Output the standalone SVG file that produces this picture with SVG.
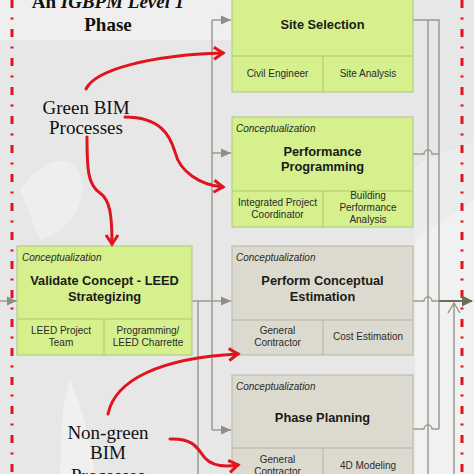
<svg xmlns="http://www.w3.org/2000/svg" width="474" height="474" viewBox="0 0 474 474">
<defs>
<marker id="ga" markerUnits="userSpaceOnUse" markerWidth="11" markerHeight="10" refX="10" refY="5" orient="auto" overflow="visible"><path d="M0,0.5 L10,5 L0,9.5 z" fill="#8e8e84"/></marker>
<marker id="da" markerUnits="userSpaceOnUse" markerWidth="12" markerHeight="12" refX="10" refY="6" orient="auto" overflow="visible"><path d="M0,0.5 L11,6 L0,11.5 z" fill="#6d6d58"/></marker>
<marker id="ua" markerUnits="userSpaceOnUse" markerWidth="12" markerHeight="12" refX="10" refY="6" orient="auto" overflow="visible"><path d="M0,0 L10,6 L0,12" fill="none" stroke="#8e8e84" stroke-width="1.3"/></marker>
<marker id="ra" markerUnits="userSpaceOnUse" markerWidth="12" markerHeight="12" refX="9" refY="6" orient="auto" overflow="visible"><path d="M0,0 L9,6 L0,12" fill="none" stroke="#e0141e" stroke-width="3" stroke-linejoin="miter"/></marker>
</defs>
<style>
.g{fill:#d5f08c;stroke:#adc57a;stroke-width:1}
.k{fill:#dcdacf;stroke:#b6b4a8;stroke-width:1}
.dv{stroke:#adc57a;stroke-width:1;fill:none}
.dk{stroke:#b6b4a8;stroke-width:1;fill:none}
.t{font-family:"Liberation Sans",Arial,sans-serif;font-weight:bold;font-size:12.8px;fill:#1a1a1a;text-anchor:middle}
.s{font-family:"Liberation Sans",Arial,sans-serif;font-size:10px;fill:#2a2a2a;text-anchor:middle}
.c{font-family:"Liberation Sans",Arial,sans-serif;font-size:10px;font-style:italic;fill:#2a2a2a}
.sf{font-family:"Liberation Serif","Times New Roman",serif;font-size:19px;fill:#111;text-anchor:middle}
.ln{fill:none;stroke:#9c9b90;stroke-width:1.5}
.rd{fill:none;stroke:#e0141e;stroke-width:3;stroke-linecap:round}
.dd{fill:none;stroke:#e0141e;stroke-width:3;stroke-dasharray:8 9.5 2 9.5}
</style>
<rect x="0" y="0" width="474" height="474" fill="#e7e7e7"/>
<rect x="0" y="0" width="232" height="40" fill="#efefef"/>
<path d="M20 190 C40 160 70 150 80 175 C90 200 70 230 40 240 Z" fill="#eeeeee"/>
<path d="M70 380 C80 400 90 440 95 474 L60 474 C62 440 60 410 70 380 Z" fill="#f0f0f0"/>
<path d="M415 240 L474 200 L474 474 L415 474 Z" fill="#f1f1f1"/>
<path d="M410 170 C440 150 460 150 474 140 L474 200 L415 240 Z" fill="#ececec"/>

<g id="red-boundary">
<line class="dd" x1="12" y1="0" x2="12" y2="474"/>
<line class="dd" x1="462" y1="0" x2="462" y2="474"/>
</g>

<g id="connectors">
<line class="ln" x1="0" y1="301" x2="17" y2="301" marker-end="url(#ga)"/>
<path class="ln" d="M212 20 V430"/>
<line class="ln" x1="212" y1="20" x2="231" y2="20" marker-end="url(#ga)"/>
<line class="ln" x1="212" y1="153" x2="231" y2="153" marker-end="url(#ga)"/>
<line class="ln" x1="212" y1="430" x2="231" y2="430" marker-end="url(#ga)"/>
<line class="ln" x1="192" y1="301" x2="231" y2="301" marker-end="url(#ga)"/>
<path class="ln" d="M198 301 V474"/>
<path class="ln" d="M413 20 H439 V429"/>
<path class="ln" d="M428 20 V474"/>
<path class="ln" d="M413 154 H424 A4 4 0 0 1 432 154 H439"/>
<path class="ln" d="M413 301 H424 A4 4 0 0 1 432 301 H439"/>
<path class="ln" d="M413 429 H424 A4 4 0 0 1 432 429 H439"/>
<line x1="439" y1="301" x2="472" y2="301" stroke="#6d6d58" stroke-width="1.8" marker-end="url(#da)"/>
<line x1="454" y1="474" x2="454" y2="303" stroke="#8e8e84" stroke-width="1.3" marker-end="url(#ua)"/>
</g>

<g id="site-selection">
<rect class="g" x="232" y="-5" width="181" height="97"/>
<path class="dv" d="M232 56 H413 M323 56 V92"/>
<text class="t" x="322.5" y="29">Site Selection</text>
<text class="s" x="277.5" y="77">Civil Engineer</text>
<text class="s" x="368" y="77">Site Analysis</text>
</g>

<g id="performance-programming">
<rect class="g" x="232" y="117" width="181" height="110"/>
<path class="dv" d="M232 191 H413 M323 191 V227"/>
<text class="c" x="236" y="132">Conceptualization</text>
<text class="t" x="322.5" y="156">Performance</text>
<text class="t" x="322.5" y="171">Programming</text>
<text class="s" x="277.5" y="206">Integrated Project</text>
<text class="s" x="277.5" y="218">Coordinator</text>
<text class="s" x="368" y="199">Building</text>
<text class="s" x="368" y="211">Performance</text>
<text class="s" x="368" y="223">Analysis</text>
</g>

<g id="validate-concept">
<rect class="g" x="17" y="246" width="175" height="109"/>
<path class="dv" d="M17 319 H192 M104 319 V355"/>
<text class="c" x="22" y="261">Conceptualization</text>
<text class="t" x="104.5" y="285">Validate Concept - LEED</text>
<text class="t" x="104.5" y="301">Strategizing</text>
<text class="s" x="61" y="334">LEED Project</text>
<text class="s" x="61" y="346">Team</text>
<text class="s" x="148" y="334">Programming/</text>
<text class="s" x="148" y="346">LEED Charrette</text>
</g>

<g id="perform-conceptual-estimation">
<rect class="k" x="232" y="246" width="181" height="109"/>
<path class="dk" d="M232 320 H413 M323 320 V355"/>
<text class="c" x="236" y="261">Conceptualization</text>
<text class="t" x="322.5" y="285">Perform Conceptual</text>
<text class="t" x="322.5" y="301">Estimation</text>
<text class="s" x="277.5" y="334">General</text>
<text class="s" x="277.5" y="346">Contractor</text>
<text class="s" x="368" y="340">Cost Estimation</text>
</g>

<g id="phase-planning">
<rect class="k" x="232" y="375" width="181" height="110"/>
<path class="dk" d="M232 448 H413 M323 448 V485"/>
<text class="c" x="236" y="390">Conceptualization</text>
<text class="t" x="322.5" y="422">Phase Planning</text>
<text class="s" x="277.5" y="463">General</text>
<text class="s" x="277.5" y="475">Contractor</text>
<text class="s" x="368" y="469">4D Modeling</text>
</g>

<g id="title">
<text class="sf" x="108" y="8" font-weight="bold">An <tspan font-style="italic">IGBPM Level 1</tspan></text>
<text class="sf" x="108" y="31" font-weight="bold">Phase</text>
</g>

<g id="green-bim">
<text class="sf" x="86" y="114">Green BIM</text>
<text class="sf" x="86" y="134">Processes</text>
<path class="rd" d="M86 89 C95 70 150 55 223 53" marker-end="url(#ra)"/>
<path class="rd" d="M125 117 C160 117 170 135 175 152 C180 172 200 185 223 187" marker-end="url(#ra)"/>
<path class="rd" d="M87 137 C87 170 88 185 100 193 C110 200 112 215 112 244" marker-end="url(#ra)"/>
</g>

<g id="non-green-bim">
<text class="sf" x="108" y="439">Non-green</text>
<text class="sf" x="108" y="459">BIM</text>
<text class="sf" x="108" y="482">Processes</text>
<path class="rd" d="M108 414 C115 380 160 358 238 354" marker-end="url(#ra)"/>
<path class="rd" d="M170 439 C195 438 198 450 205 458 C212 466 225 467 238 465" marker-end="url(#ra)"/>
</g>
</svg>
